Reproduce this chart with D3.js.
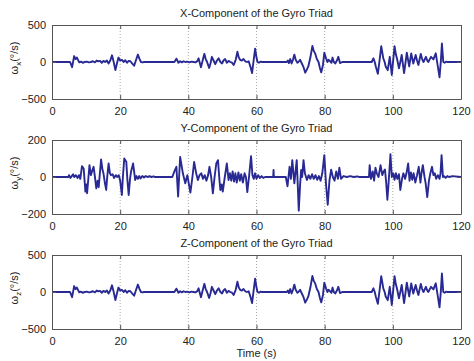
<!DOCTYPE html>
<html>
<head>
<meta charset="utf-8">
<script src="https://cdn.jsdelivr.net/npm/d3@7"></script>
<style>
  body { margin: 0; background: #fff; }
  svg { display: block; font-family: "Liberation Sans", Arial, sans-serif; }
</style>
</head>
<body>
<script>
// gyro X component, (time s, rate deg/s)
var xTimes = [0, 5.3, 5.9, 6.5, 6.9, 7.3, 8.0, 8.5, 9.0, 9.6, 10.2, 10.8, 11.4, 12.0, 12.6, 13.1, 13.6, 14.1, 14.6, 15.1,
  15.6, 16.1, 16.6, 17.1, 17.6, 18.1, 18.6, 19.0, 19.5, 20.0, 20.5, 21.0, 21.5, 22.0, 22.5, 23.0, 23.5, 24.1, 24.6, 25.2,
  25.7, 26.1, 26.6, 27.0, 35.9, 36.5, 37.1, 37.6, 38.1, 38.6, 39.1, 39.7, 40.3, 40.9, 41.5, 42.1, 42.6, 43.0, 43.7, 44.2,
  44.7, 45.1, 45.5, 46.1, 46.5, 46.9, 47.4, 47.9, 48.4, 48.9, 49.4, 49.9, 50.3, 50.8, 51.3, 51.8, 52.3, 52.8, 53.3, 53.9,
  54.4, 54.8, 55.2, 55.7, 56.2, 56.7, 57.2, 57.7, 58.2, 58.7, 59.1, 59.6, 60.0, 60.3, 60.7, 61.2, 61.6, 68.9, 69.2, 69.5,
  69.9, 70.3, 70.7, 71.1, 71.5, 72.0, 72.3, 72.8, 73.3, 73.8, 74.3, 74.8, 75.2, 75.8, 76.4, 76.8, 77.2, 77.7, 78.2, 78.6,
  79.0, 79.5, 79.9, 80.4, 80.8, 81.1, 81.6, 82.0, 82.3, 82.7, 83.1, 83.6, 84.0, 84.5, 85.2, 93.8, 94.3, 94.7, 95.0, 95.6,
  96.1, 96.6, 97.2, 97.6, 97.9, 98.5, 99.1, 99.7, 100.5, 100.9, 101.2, 101.8, 102.2, 102.6, 103.3, 104.1, 104.8, 105.4, 106.0, 106.7,
  107.1, 107.5, 108.2, 108.6, 109.0, 109.7, 110.1, 110.4, 111.2, 111.9, 112.6, 113.2, 113.7, 114.1, 114.4, 114.8, 115.2, 115.6, 116.0, 120];
var xRates = [0, 0, -70, 80, 40, 60, -5, 5, -10, 0, 5, -5, 0, 10, -5, 20, 10, 15, -10, 15,
  0, 20, -20, 20, 90, 0, -110, -30, 60, 20, 30, 0, 25, -10, 15, 10, -20, -50, 20, 100,
  40, 0, -5, 0, 0, 45, -10, 10, -5, 10, 0, 5, -5, 5, 0, -5, 10, 50, -70, 20,
  110, 40, 0, -80, -20, 70, 20, -30, 20, 50, 0, -20, 20, 40, -10, 15, 0, -10, -40, 30,
  140, 60, 30, 20, 40, 10, 0, 10, -60, -150, 0, 180, 60, 0, -10, 5, 0, 0, 20, -15,
  40, -20, 30, 100, 30, -10, 0, 30, -20, -70, -144, -100, -60, 60, 216, 150, 117, 40, 0, -80,
  -140, -40, 126, 50, 0, 30, 10, -10, 60, 0, -20, 20, 70, -15, 0, 0, 50, 0, -60, -160,
  20, 215, 50, 0, -60, -110, 70, -175, 215, 100, 50, -85, 0, 95, -150, 125, -60, 115, -20, 95,
  20, -40, 110, 40, 0, 70, 20, 0, 70, 35, 117, -60, -207, 20, 250, 0, -10, 5, 0, 0];

// gyro Y component
var yTimes = [0, 4.8, 5.0, 5.4, 5.8, 6.2, 6.5, 7.0, 7.5, 7.9, 8.3, 8.8, 9.3, 9.8, 10.1, 10.3, 10.7, 11.0, 11.4, 11.7,
  12.2, 12.6, 13.0, 13.4, 13.7, 14.4, 14.8, 15.1, 15.5, 15.9, 16.2, 16.6, 17.0, 17.3, 17.8, 18.2, 18.7, 19.1, 19.6, 20.0,
  20.5, 20.8, 21.2, 21.8, 22.1, 22.5, 22.9, 23.2, 23.8, 24.4, 24.8, 25.2, 25.6, 26.0, 26.5, 27.0, 27.5, 28.0, 28.6, 29.2,
  29.8, 30.2, 35.3, 35.9, 36.5, 37.0, 37.6, 38.4, 39.1, 39.7, 40.6, 41.2, 41.7, 42.3, 42.8, 43.3, 43.8, 44.3, 44.8, 45.3,
  45.8, 46.2, 46.7, 47.2, 47.7, 48.2, 48.7, 49.1, 49.4, 49.8, 50.1, 50.7, 51.3, 51.8, 52.2, 52.6, 53.0, 53.4, 53.8, 54.2,
  54.7, 55.1, 55.5, 56.0, 56.5, 56.9, 57.3, 57.8, 58.4, 58.8, 59.2, 59.6, 60.0, 60.5, 61.0, 61.5, 62.0, 62.5, 64.9, 65.0,
  65.1, 68.6, 69.1, 69.7, 70.1, 70.5, 71.1, 71.8, 72.1, 72.4, 72.8, 73.1, 73.4, 73.8, 74.2, 74.8, 75.3, 75.8, 76.3, 76.8,
  77.3, 77.8, 78.3, 78.8, 79.3, 79.9, 80.4, 80.9, 81.4, 81.9, 82.4, 82.9, 83.4, 83.9, 84.3, 84.8, 85.5, 86.5, 87.5, 88.5,
  89.5, 90.2, 93.0, 93.2, 93.6, 94.1, 94.5, 94.9, 95.3, 95.8, 96.4, 96.9, 97.3, 97.7, 98.0, 98.4, 98.8, 99.3, 99.7, 100.1,
  100.5, 100.9, 101.3, 101.8, 102.2, 102.7, 103.1, 103.6, 104.0, 104.5, 104.9, 105.3, 105.7, 106.1, 106.6, 107.1, 107.6, 108.1, 108.4, 108.8,
  109.3, 109.6, 110.1, 110.6, 111.0, 111.5, 111.9, 112.3, 112.7, 113.2, 113.7, 114.0, 114.3, 114.7, 115.0, 115.5, 116.0, 116.5, 117.5, 120];
var yRates = [0, 0, 10, -5, 5, 15, 0, 10, -5, 10, -10, 59, 45, -79, -40, -88, 0, 64, 10, 29,
  55, 0, -61, -20, -55, 95, 40, 20, -30, -70, 0, 73, 20, 10, 15, -5, 10, 0, 10, -20,
  -97, 0, 100, 82, -10, -97, -10, 30, 73, -16, 5, -10, 5, -8, 5, -3, 5, 0, 4, 0,
  3, 0, 0, 30, 55, -105, 109, 20, -34, 10, -84, 0, 82, 20, -16, 10, 20, -10, 10, -20,
  10, 55, 0, -88, 0, 73, 91, -10, -70, -40, -79, 0, 73, -16, 20, -20, 30, -25, 20, -30,
  25, -20, 15, -30, 20, 0, -82, 0, 113, 10, -10, 20, -10, 10, -5, 5, -5, 0, 0, 38,
  0, 0, -50, 55, -10, 91, -34, 91, -40, -182, -40, 38, 0, 91, 20, -16, 10, -10, 15, -10,
  10, -15, 5, -20, 20, 118, -40, -150, -20, 40, 0, -20, 30, -10, 50, -10, 5, 0, 5, 0,
  3, 0, 0, 64, -10, 30, -20, 50, 20, 0, 64, 10, 30, 40, -20, -123, -20, 123, 0, 20,
  -15, 20, -10, 15, -70, -10, 20, -10, 20, 73, -20, 25, -15, 20, -30, 10, 55, -30, 20, 64,
  0, -30, -109, -20, 20, 55, 10, 20, -10, 10, -10, 20, 118, 0, 5, -5, 5, 0, 5, 0];

// the Z trace in the figure is drawn identical to X
var zTimes = xTimes;
var zRates = xRates;

var titles = ["X-Component of the Gyro Triad", "Y-Component of the Gyro Triad", "Z-Component of the Gyro Triad"];
var axisSubs = ["x", "y", "z"];
var timeTicks = [0, 20, 40, 60, 80, 100, 120];
var gridTicks = [20, 40, 60, 80, 100];
var yTicksBig = [-500, 0, 500];
var yTicksSmall = [-200, 0, 200];

var W = 474, H = 361;
var LEFT = 52, RIGHT = 461, PANEL_H = 74;
var LINE_COLOR = "#292994";

var panels = [
  {top: 25,  times: xTimes, rates: xRates, ticks: yTicksBig,   idx: 0},
  {top: 140, times: yTimes, rates: yRates, ticks: yTicksSmall, idx: 1},
  {top: 255, times: zTimes, rates: zRates, ticks: yTicksBig,   idx: 2}
];

var svg = d3.select("body").append("svg")
  .attr("width", W)
  .attr("height", H);

var x = d3.scaleLinear().domain([0, 120]).range([LEFT, RIGHT]);

panels.forEach(function(p) {
  var y = d3.scaleLinear()
    .domain([p.ticks[0], p.ticks[2]])
    .range([p.top + PANEL_H, p.top]);
  var g = svg.append("g");

  // dotted vertical grid
  g.selectAll("line.grid")
    .data(gridTicks)
    .enter().append("line")
    .attr("class", "grid")
    .attr("x1", function(d) { return x(d); })
    .attr("x2", function(d) { return x(d); })
    .attr("y1", p.top)
    .attr("y2", p.top + PANEL_H)
    .attr("stroke", "#aaa")
    .attr("stroke-width", 1)
    .attr("stroke-dasharray", "1,2");

  // signal
  var pts = p.times.map(function(t, i) { return [t, p.rates[i]]; });
  var line = d3.line()
    .x(function(d) { return x(d[0]); })
    .y(function(d) { return y(d[1]); });
  g.append("path")
    .datum(pts)
    .attr("d", line)
    .attr("fill", "none")
    .attr("stroke", LINE_COLOR)
    .attr("stroke-width", 1.9)
    .attr("stroke-linejoin", "round");

  // axes, ticks pointing inward like matlab
  var bottom = g.append("g")
    .attr("transform", "translate(0," + (p.top + PANEL_H) + ")")
    .call(d3.axisBottom(x).tickValues(timeTicks).tickSizeInner(-4).tickSizeOuter(0).tickPadding(8));
  var top = g.append("g")
    .attr("transform", "translate(0," + p.top + ")")
    .call(d3.axisTop(x).tickValues(timeTicks).tickSizeInner(-4).tickSizeOuter(0).tickFormat(""));
  var left = g.append("g")
    .attr("transform", "translate(" + LEFT + ",0)")
    .call(d3.axisLeft(y).tickValues(p.ticks).tickSizeInner(-4).tickSizeOuter(0).tickPadding(6));
  var right = g.append("g")
    .attr("transform", "translate(" + RIGHT + ",0)")
    .call(d3.axisRight(y).tickValues(p.ticks).tickSizeInner(-4).tickSizeOuter(0).tickFormat(""));

  [bottom, top, left, right].forEach(function(a) {
    a.select(".domain").attr("stroke", "#555");
    a.selectAll(".tick line").attr("stroke", "#555");
    a.selectAll("text")
      .attr("font-size", 11)
      .attr("fill", "#222")
      .attr("font-family", "Liberation Sans, Arial, sans-serif");
  });
  left.selectAll("text").text(function(d) { return d < 0 ? "\u2212" + Math.abs(d) : d; });

  // title
  g.append("text")
    .attr("x", (LEFT + RIGHT) / 2)
    .attr("y", p.top - 8)
    .attr("text-anchor", "middle")
    .attr("font-size", 11)
    .attr("fill", "#222")
    .text(titles[p.idx]);

  // y label: omega_sub (deg/s)
  var yl = g.append("text")
    .attr("transform", "translate(18," + (p.top + PANEL_H / 2 - 4) + ") rotate(-90)")
    .attr("text-anchor", "middle")
    .attr("font-size", 11)
    .attr("fill", "#222");
  yl.append("tspan").text("\u03c9");
  yl.append("tspan").attr("dy", 3).attr("font-size", 8).text(axisSubs[p.idx]);
  yl.append("tspan").attr("dy", -3).text("(\u00b0/s)");
});

svg.append("text")
  .attr("x", (LEFT + RIGHT) / 2)
  .attr("y", 357)
  .attr("text-anchor", "middle")
  .attr("font-size", 11)
  .attr("fill", "#222")
  .text("Time (s)");
</script>
</body>
</html>
